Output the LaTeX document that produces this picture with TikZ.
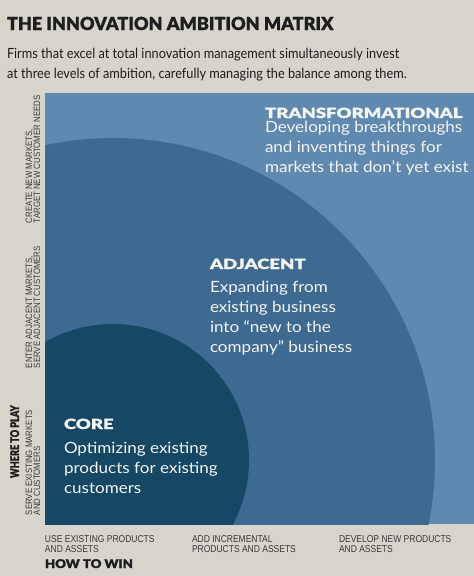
\documentclass[tikz,border=0pt]{standalone}
\usepackage{fontspec}
\setmainfont{Lato}
\newfontfamily\titlefont{Lato Black}[FakeStretch=1.0, FakeBold=1.0]
\newfontfamily\headfont{Lato Black}[FakeStretch=1.32, FakeBold=1.0]
\newfontfamily\hwfont{Lato Black}[FakeStretch=1.1, FakeBold=1.0]
\newfontfamily\wpfont{Lato Black}[FakeStretch=0.76, FakeBold=1.0]
\newfontfamily\introfont{Lato}[FakeStretch=0.91]
\newfontfamily\descfont{Lato}[FakeStretch=1.10]
\newfontfamily\labelfont{Liberation Sans}[FakeStretch=0.85]
\definecolor{bgc}{HTML}{D6D4CB}
\definecolor{transc}{HTML}{6089AF}
\definecolor{adjc}{HTML}{3E6A92}
\definecolor{corec}{HTML}{164765}
\definecolor{inkc}{HTML}{1E1E1E}
\definecolor{greyc}{HTML}{3A3A3A}
\definecolor{whitec}{HTML}{F4F4F0}
\newcommand\vstack[2]{\vtop{\baselineskip=#1\lineskiplimit=-100pt\lineskip=0pt\relax #2}}
\tikzset{
  txt/.style={anchor=base west, inner sep=0pt, outer sep=0pt},
  title/.style={txt, text=inkc, font=\titlefont\fontsize{18}{20}\selectfont},
  intro/.style={txt, text=inkc, font=\introfont\fontsize{14}{20}\selectfont},
  head/.style={txt, text=whitec, font=\headfont\fontsize{14}{16}\selectfont},
  desc/.style={txt, text=whitec, font=\descfont\fontsize{15.5}{20}\selectfont},
  axis/.style={txt, text=greyc, font=\labelfont\fontsize{10}{10}\selectfont},
  vaxis/.style={txt, rotate=90, text=greyc, font=\labelfont\fontsize{9.2}{10}\selectfont},
  axishead/.style={txt, text=inkc, font=\hwfont\fontsize{12}{14}\selectfont},
  vaxishead/.style={txt, rotate=90, text=inkc, font=\wpfont\fontsize{12}{14}\selectfont},
}
\begin{document}
\begin{tikzpicture}[x=1pt,y=-1pt]
\useasboundingbox (0,0) rectangle (474,576);
\fill[bgc] (0,0) rectangle (474,576);
\begin{scope}
  \clip (45,93) rectangle (474,524);
  \fill[transc] (45,93) rectangle (474,524);
  \fill[adjc] (113,460) circle[radius=322];
  \fill[corec] (113,460) circle[radius=136];
\end{scope}
\node[title] (ttl) at (7,30) {THE INNOVATION AMBITION MATRIX};
\node[intro] (intr) at (7,58) {\vstack{20pt}{\hbox{Firms that excel at total innovation management simultaneously invest}\hbox{at three levels of ambition, carefully managing the balance among them.}}};
\node[head] (th) at (265,118) {TRANSFORMATIONAL};
\node[desc] (td) at (265,132) {\vstack{20pt}{\hbox{Developing breakthroughs}\hbox{and inventing things for}\hbox{markets that don’t yet exist}}};
\node[head] (ah) at (210,269) {ADJACENT};
\node[desc] (ad) at (210,292) {\vstack{20pt}{\hbox{Expanding from}\hbox{existing business}\hbox{into “new to the}\hbox{company” business}}};
\node[head] (ch) at (64,429) {CORE};
\node[desc] (cd) at (64,453) {\vstack{20pt}{\hbox{Optimizing existing}\hbox{products for existing}\hbox{customers}}};
\node[axis] (b1) at (45,542) {\vstack{10pt}{\hbox{USE EXISTING PRODUCTS}\hbox{AND ASSETS}}};
\node[axis] (b2) at (192,542) {\vstack{10pt}{\hbox{ADD INCREMENTAL}\hbox{PRODUCTS AND ASSETS}}};
\node[axis] (b3) at (339,542) {\vstack{10pt}{\hbox{DEVELOP NEW PRODUCTS}\hbox{AND ASSETS}}};
\node[axishead] (hw) at (45,568) {HOW TO WIN};
\node[vaxis] (l3) at (32,223) {\vstack{8pt}{\hbox{CREATE NEW MARKETS,}\hbox{TARGET NEW CUSTOMER NEEDS}}};
\node[vaxis] (l2) at (32,368) {\vstack{8pt}{\hbox{ENTER ADJACENT MARKETS,}\hbox{SERVE ADJACENT CUSTOMERS}}};
\node[vaxis] (l1) at (32,515) {\vstack{8pt}{\hbox{SERVE EXISTING MARKETS}\hbox{AND CUSTOMERS}}};
\node[vaxishead] (wp) at (19,478) {WHERE TO PLAY};
\end{tikzpicture}
\end{document}
